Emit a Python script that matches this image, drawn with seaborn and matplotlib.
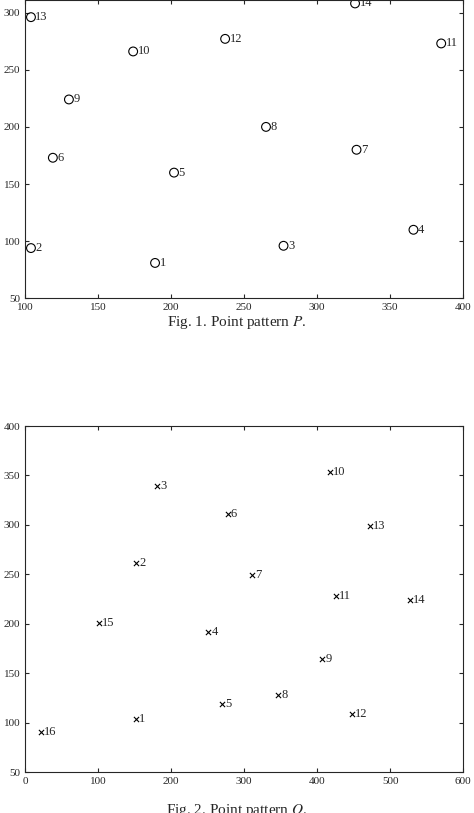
import matplotlib
matplotlib.use("Agg")
import matplotlib.pyplot as plt
import seaborn as sns
import pandas as pd

p_x = [189, 104, 277, 366, 202, 119, 327, 265, 130, 174, 385, 237, 104, 326]
p_y = [81, 94, 96, 110, 160, 173, 180, 200, 224, 266, 273, 277, 296, 308]
q_x = [152, 152, 181, 251, 270, 278, 311, 347, 407, 418, 426, 448, 473, 527, 101, 22]
q_y = [104, 262, 339, 192, 119, 311, 249, 128, 165, 354, 228, 109, 299, 224, 201, 91]

sns.set_style("ticks")
plt.rcParams["font.family"] = ["Liberation Serif", "DejaVu Serif"]
plt.rcParams["mathtext.fontset"] = "stix"

fig = plt.figure(figsize=(4.74, 8.13), dpi=100)
ax1 = fig.add_axes([0.053, 0.633, 0.924, 0.367])
ax2 = fig.add_axes([0.053, 0.050, 0.924, 0.426])

dp = pd.DataFrame({"x": p_x, "y": p_y})
dq = pd.DataFrame({"x": q_x, "y": q_y})

sns.scatterplot(data=dp, x="x", y="y", ax=ax1, marker="o", s=40,
                facecolor="none", edgecolor="black", linewidth=0.8)
for i, (x, y) in enumerate(zip(p_x, p_y), 1):
    ax1.text(x + 3, y, str(i), fontsize=9, va="center", ha="left")
ax1.set_xlim(100, 400)
ax1.set_ylim(50, 311)
ax1.set_yticks([50, 100, 150, 200, 250, 300])

sns.scatterplot(data=dq, x="x", y="y", ax=ax2, marker="x", s=14,
                color="black", linewidth=0.8)
for i, (x, y) in enumerate(zip(q_x, q_y), 1):
    ax2.text(x + 4, y, str(i), fontsize=9, va="center", ha="left")
ax2.set_xlim(0, 600)
ax2.set_ylim(50, 400)

for ax in (ax1, ax2):
    ax.set_xlabel("")
    ax.set_ylabel("")
    ax.tick_params(direction="in", labelsize=8, length=3, top=True, right=True)
    for s in ax.spines.values():
        s.set_linewidth(0.8)

fig.text(0.5, 0.603, "Fig. 1. Point pattern $P$.", ha="center", va="center", fontsize=11)
fig.text(0.5, 0.003, "Fig. 2. Point pattern $Q$.", ha="center", va="center", fontsize=11)

fig.savefig("out.png", dpi=100)
